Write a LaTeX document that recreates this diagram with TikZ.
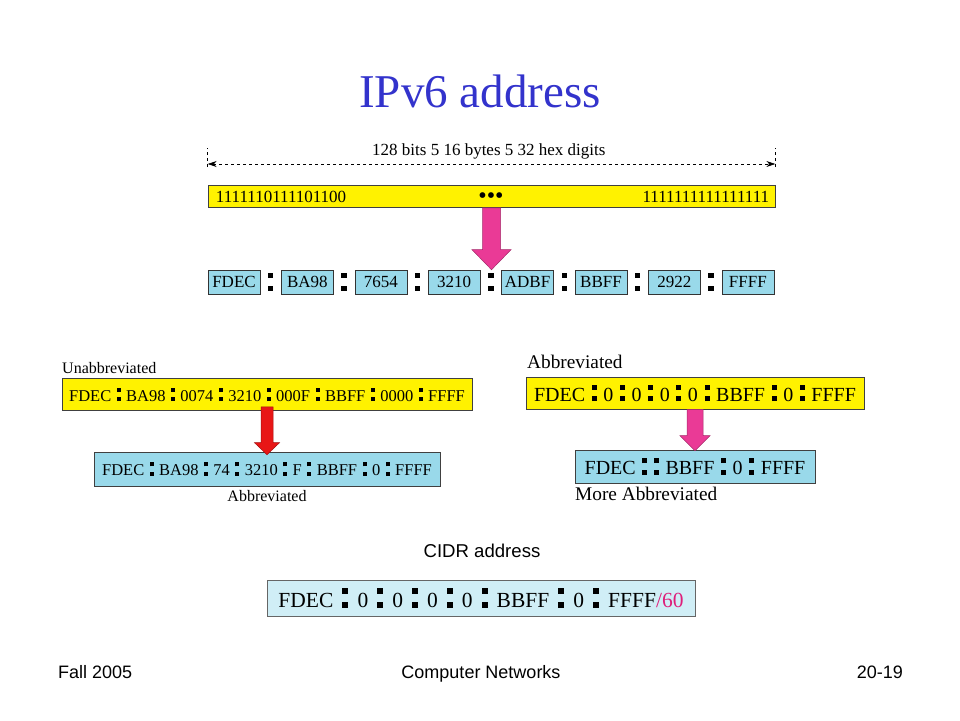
\documentclass[tikz,border=0pt]{standalone}
\usepackage{fontspec}
\setmainfont{Liberation Serif}
\setsansfont{Liberation Sans}
\usetikzlibrary{calc, arrows.meta}

\definecolor{titleblue}{RGB}{51,51,204}
\definecolor{hexblue}{RGB}{153,217,234}
\definecolor{cidrblue}{RGB}{208,238,246}
\definecolor{hotpink}{RGB}{234,58,150}
\definecolor{arrowred}{RGB}{232,22,22}
\definecolor{prefixpink}{RGB}{222,30,122}

\newcommand{\fs}[1]{\fontsize{#1}{#1}\selectfont}
% colon made of two square dots: [space]{square size}
\newcommand{\cln}[2][.33em]{\hspace{#1}\vbox{\hrule width #2 height #2\vskip1.3\dimexpr#2\relax\hrule width #2 height #2}\hspace{#1}}
% fat block arrow: from, to, style, half shaft, half head, head length
\newcommand{\fatarrow}[6]{%
  \filldraw[#3] let \p1=(#1), \p2=(#2) in
    (\x1-#4,\y1) -- (\x1+#4,\y1) -- (\x1+#4,\y2+#6) -- (\x1+#5,\y2+#6)
    -- (\x1,\y2) -- (\x1-#5,\y2+#6) -- (\x1-#4,\y2+#6) -- cycle;}

\begin{document}
\begin{tikzpicture}[x=1pt, y=-1pt,
    hexbox/.style={draw=black!80, fill=hexblue, line width=.6pt,
        minimum width=52pt, minimum height=24pt, inner sep=0pt, font=\fs{17}},
    yelbar/.style={draw=black!75, fill=yellow, line width=.6pt, inner sep=0pt},
    bluebar/.style={draw=black!75, fill=hexblue, line width=.6pt, inner sep=0pt},
    lbl/.style={inner sep=0pt},
    footer/.style={inner sep=0pt, font=\sffamily\fs{18}},
    ]
    \useasboundingbox (0,0) rectangle (960,720);

    \node[lbl, anchor=base, text=titleblue, font=\fs{47}] (title) at (480,107) {IPv6 address};

    % 128 bit line
    \node[yelbar, minimum width=567pt, minimum height=22pt] (bits) at (491.5,196.5) {};
    \node[lbl, anchor=base west, font=\fs{17}] (hibits) at ([xshift=8pt]bits.west |- 0,202) {1111110111101100};
    \node[lbl, anchor=base east, font=\fs{17}] (lobits) at ([xshift=-6pt]bits.east |- 0,202) {1111111111111111};
    \node[lbl, anchor=base, font=\fs{24}] (dots) at (491,203) {\textbullet\textbullet\textbullet};
    \coordinate (dl) at (bits.west |- 0,164);
    \coordinate (dr) at (bits.east |- 0,164);
    \draw[dashed, line width=.5pt] ([yshift=-3pt]dl) -- ([yshift=16pt]dl);
    \draw[dashed, line width=.5pt] ([yshift=-3pt]dr) -- ([yshift=16pt]dr);
    \draw[dashed, line width=.7pt, {Stealth[length=9pt,width=6pt]}-{Stealth[length=9pt,width=6pt]}] (dl) -- (dr);
    \node[lbl, anchor=base west, font=\fs{17}] (dimlbl) at (372,155) {128 bits 5 16 bytes 5 32 hex digits};

    % eight groups of hex digits
    \foreach \g [count=\i] in {FDEC,BA98,7654,3210,ADBF,BBFF,2922,FFFF}
        \node[hexbox] (g\i) at ({234+73.4*(\i-1)},282) {\g};
    \foreach \i [evaluate=\i as \j using int(\i+1)] in {1,...,7}
        \node[lbl, font=\fs{16}] (c\i) at ($(g\i.east)!.5!(g\j.west)$) {\cln[0pt]{5.5pt}};

    \coordinate (tip) at (c4 |- g4.north);
    \fatarrow{bits.south}{tip}{fill=hotpink, draw=hotpink!70!black, line width=.5pt}{9pt}{19.5pt}{20pt}

    % unabbreviated -> abbreviated
    \node[lbl, anchor=base west, font=\fs{16}] (unlbl) at (62,373) {Unabbreviated};
    \node[yelbar, minimum width=410pt, minimum height=32pt, font=\fs{16.5}] (ua) at (267,394.5)
        {FDEC\cln{4pt}BA98\cln{4pt}0074\cln{4pt}3210\cln{4pt}000F\cln{4pt}BBFF\cln{4pt}0000\cln{4pt}FFFF};
    \node[bluebar, minimum width=346pt, minimum height=34pt, font=\fs{16.5}] (ab) at (267,469)
        {FDEC\cln{4pt}BA98\cln{4pt}74\cln{4pt}3210\cln{4pt}F\cln{4pt}BBFF\cln{4pt}0\cln{4pt}FFFF};
    \node[lbl, anchor=base, font=\fs{16}] (ablbl) at (267,501) {Abbreviated};
    \fatarrow{[yshift=4pt]ua.south}{[yshift=-3pt]ab.north}{fill=arrowred, draw=arrowred!70!black, line width=.5pt}{6pt}{12.5pt}{12pt}

    % abbreviated -> more abbreviated
    \node[lbl, anchor=base west, font=\fs{19.3}] (ablbl2) at (527,368) {Abbreviated};
    \node[yelbar, minimum width=338pt, minimum height=32pt, font=\fs{20}] (ra) at (695,393)
        {FDEC\cln{5pt}0\cln{5pt}0\cln{5pt}0\cln{5pt}0\cln{5pt}BBFF\cln{5pt}0\cln{5pt}FFFF};
    \node[bluebar, minimum width=240pt, minimum height=33pt, font=\fs{20}] (mb) at (695,466.5)
        {FDEC\cln{5pt}\cln[0pt]{5pt}\hspace{.33em}BBFF\cln{5pt}0\cln{5pt}FFFF};
    \node[lbl, anchor=base west, font=\fs{19.3}] (morelbl) at (575,500) {More Abbreviated};
    \fatarrow{ra.south}{[yshift=-1pt]mb.north}{fill=hotpink, draw=hotpink!70!black, line width=.5pt}{8pt}{15pt}{15pt}

    % CIDR
    \node[lbl, anchor=base, font=\sffamily\fs{18.6}] (cidrlbl) at (482,557) {CIDR address};
    \node[draw=black!60, fill=cidrblue, line width=.8pt, minimum width=428pt, minimum height=36pt,
        inner sep=0pt, font=\fs{21.5}] (cidr) at (481,598)
        {FDEC\cln[.42em]{6pt}0\cln[.42em]{6pt}0\cln[.42em]{6pt}0\cln[.42em]{6pt}0\cln[.42em]{6pt}BBFF\cln[.42em]{6pt}0\cln[.42em]{6pt}FFFF\textcolor{prefixpink}{/60}};

    \node[footer, anchor=base west] (f1) at (58,678) {Fall 2005};
    \node[footer, anchor=base] (f2) at (481,678) {Computer Networks};
    \node[footer, anchor=base east] (f3) at (903,678) {20-19};
\end{tikzpicture}
\end{document}
